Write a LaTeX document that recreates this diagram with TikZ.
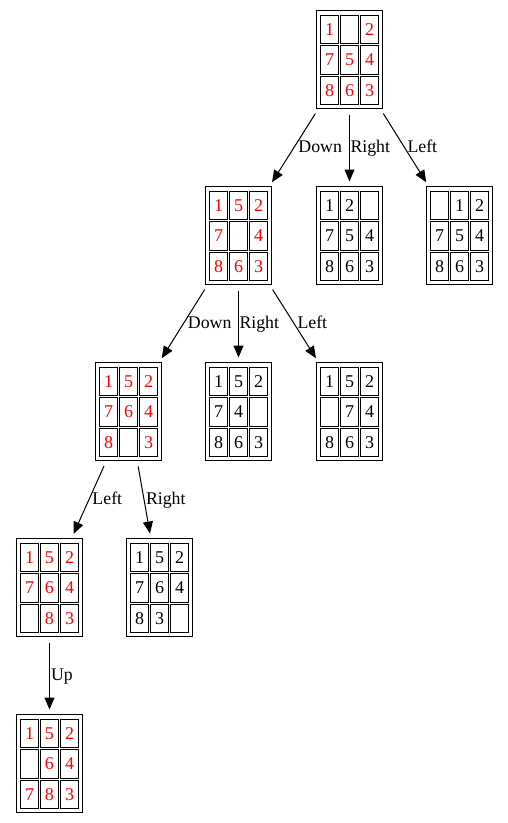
\documentclass[tikz,border=0pt]{standalone}
\usepackage{fontspec}
\setmainfont{Liberation Serif}
\usetikzlibrary{arrows.meta,calc}
\tikzset{
 outerbox/.style={draw, line width=1.3pt, minimum width=66pt, minimum height=98pt, inner sep=0pt, outer sep=0pt, anchor=north west},
 cellbox/.style={draw, line width=1.1pt, minimum width=18pt, minimum height=28.3pt, inner sep=0pt, outer sep=0pt, anchor=north west, font=\fontsize{18}{18}\selectfont},
 edge/.style={line width=1pt, -{Triangle[length=12pt,width=10pt]}, shorten <=6pt, shorten >=5pt},
 lbl/.style={anchor=base west, inner sep=0pt, font=\fontsize{17.8}{17.8}\selectfont, yshift=-4.7pt},
}
\newcommand\board[4]{%
  \node[outerbox] (#1) at (#2) {};
  \foreach \v [count=\k from 0] in {#4} {
    \pgfmathtruncatemacro\col{mod(\k,3)}
    \pgfmathtruncatemacro\row{div(\k,3)}
    \node[cellbox, text=#3] (#1-\k) at ($(#1.north west)+(4+20*\col, 4.7+30.7*\row)$) {\v};
  }
}
\begin{document}
\begin{tikzpicture}[x=1pt,y=-1pt]
\useasboundingbox (0,0) rectangle (508,823);
\board{N0}{316.5,10.5}{red}{1,{},2,7,5,4,8,6,3}
\board{N1}{205.5,186.5}{red}{1,5,2,7,{},4,8,6,3}
\board{N2}{316.5,186.5}{black}{1,2,{},7,5,4,8,6,3}
\board{N3}{426.5,186.5}{black}{{},1,2,7,5,4,8,6,3}
\board{N4}{95.5,362.5}{red}{1,5,2,7,6,4,8,{},3}
\board{N5}{205.5,362.5}{black}{1,5,2,7,4,{},8,6,3}
\board{N6}{316.5,362.5}{black}{1,5,2,{},7,4,8,6,3}
\board{N7}{16.5,538.5}{red}{1,5,2,7,6,4,{},8,3}
\board{N8}{126.5,538.5}{black}{1,5,2,7,6,4,8,3,{}}
\board{N9}{16.5,714.5}{red}{1,5,2,{},6,4,7,8,3}
\draw[edge] (N0) -- node[lbl, xshift=4pt]{Down} (N1);
\draw[edge] (N0) -- node[lbl, xshift=0.5pt]{Right} (N2);
\draw[edge] (N0) -- node[lbl, xshift=2.5pt]{Left} (N3);
\draw[edge] (N1) -- node[lbl, xshift=4pt]{Down} (N4);
\draw[edge] (N1) -- node[lbl, xshift=0.5pt]{Right} (N5);
\draw[edge] (N1) -- node[lbl, xshift=3pt]{Left} (N6);
\draw[edge] (N4) -- node[lbl, xshift=3pt]{Left} (N7);
\draw[edge] (N4) -- node[lbl, xshift=1.5pt]{Right} (N8);
\draw[edge] (N7) -- node[lbl, xshift=1pt]{Up} (N9);
\end{tikzpicture}
\end{document}
